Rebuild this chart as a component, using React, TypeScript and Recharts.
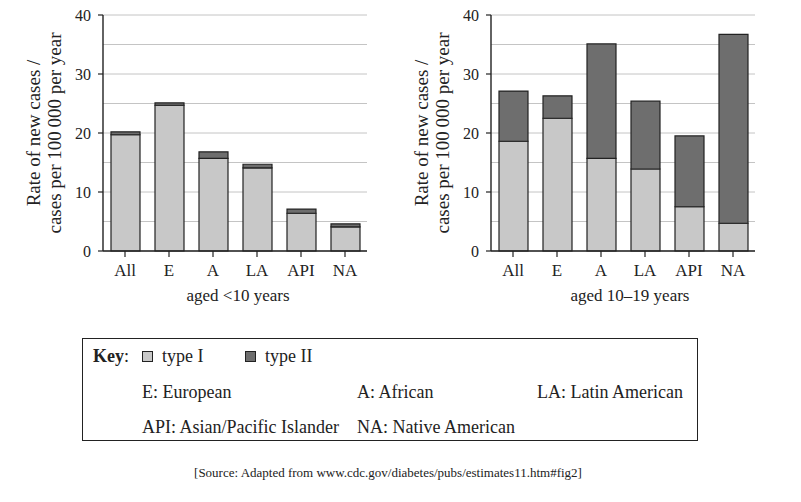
import React from 'react';
import { BarChart, Bar, XAxis, YAxis, CartesianGrid } from 'recharts';

const groups = ['All', 'E', 'A', 'LA', 'API', 'NA'];
const young1 = [19.7, 24.7, 15.7, 14.1, 6.4, 4.1];
const young2 = [0.5, 0.4, 1.1, 0.6, 0.7, 0.5];
const teen1 = [18.6, 22.5, 15.7, 13.9, 7.5, 4.7];
const teen2 = [8.5, 3.8, 19.4, 11.5, 12.0, 32.0];
const yTicks = [0, 5, 10, 15, 20, 25, 30, 35, 40];
const yLabelLines = ['Rate of new cases /', 'cases per 100\u2009000 per year'];

const FONT = '"Liberation Serif", "Times New Roman", serif';
const INK = '#222';
const LIGHT = '#c8c8c8';
const DARK = '#6e6e6e';
const TICK_SIZE = 5;
const TICK_MARGIN = 7;

const makeRows = (t1: number[], t2: number[]) =>
  groups.map((g, i) => ({ group: g, type1: t1[i], type2: t2[i] }));

const YTick = (props: any) => {
  const { x, y, payload } = props;
  if (payload.value % 10 !== 0) return null;
  return (
    <g>
      <line x1={x + TICK_MARGIN} x2={x + TICK_MARGIN + TICK_SIZE} y1={y} y2={y} stroke={INK} strokeWidth={1.2} />
      <text x={x} y={y} dy="0.36em" textAnchor="end" fontSize={16} fontFamily={FONT} fill={INK}>
        {payload.value}
      </text>
    </g>
  );
};

const XTick = (props: any) => {
  const { x, y, payload } = props;
  return (
    <text x={x} y={y + 19} textAnchor="middle" fontSize={17} fontFamily={FONT} fill={INK}>
      {payload.value}
    </text>
  );
};

function Panel({ rows, title, titleDx }: { rows: any[]; title: string; titleDx: number }) {
  return (
    <BarChart
      width={400}
      height={320}
      data={rows}
      margin={{ top: 15, right: 33, left: 0, bottom: 0 }}
      barSize={29}
    >
      <CartesianGrid vertical={false} stroke="#c4c4c4" strokeWidth={1} />
      <XAxis
        dataKey="group"
        height={69}
        tickSize={6}
        tickMargin={0}
        axisLine={{ stroke: INK, strokeWidth: 1.4 }}
        tickLine={{ stroke: INK, strokeWidth: 1.2 }}
        tick={<XTick />}
        label={{
          content: (p: any) => {
            const vb = p.viewBox;
            return (
              <text x={vb.x + vb.width / 2 + titleDx} y={vb.y + 50} textAnchor="middle" fontSize={17} fontFamily={FONT} fill={INK}>
                {title}
              </text>
            );
          },
        }}
      />
      <YAxis
        width={103}
        domain={[0, 40]}
        ticks={yTicks}
        interval={0}
        tickSize={TICK_SIZE}
        tickMargin={TICK_MARGIN}
        tickLine={false}
        axisLine={{ stroke: INK, strokeWidth: 1.4 }}
        tick={<YTick />}
        label={{
          content: (p: any) => {
            const vb = p.viewBox;
            const ax = vb.x + vb.width;
            const cy = vb.y + vb.height / 2;
            return (
              <g>
                {yLabelLines.map((line, i) => {
                  const bx = ax - 63 + i * 21;
                  return (
                    <text
                      key={line}
                      x={bx}
                      y={cy}
                      transform={`rotate(-90, ${bx}, ${cy})`}
                      textAnchor="middle"
                      fontSize={19}
                      fontFamily={FONT}
                      fill={INK}
                    >
                      {line}
                    </text>
                  );
                })}
              </g>
            );
          },
        }}
      />
      <Bar dataKey="type1" stackId="s" fill={LIGHT} stroke={INK} strokeWidth={1.2} isAnimationActive={false} />
      <Bar dataKey="type2" stackId="s" fill={DARK} stroke={INK} strokeWidth={1.2} isAnimationActive={false} />
    </BarChart>
  );
}

const txt: React.CSSProperties = { position: 'absolute', fontFamily: FONT, fontSize: 18, color: INK, whiteSpace: 'nowrap', lineHeight: '18px' };
const swatch = (bg: string, left: number): React.CSSProperties => ({
  position: 'absolute', left, top: 351, width: 9, height: 9, background: bg, border: `1px solid ${INK}`,
});

export default function App() {
  return (
    <div style={{ position: 'absolute', left: 0, top: 0, width: 801, height: 502, background: '#fff', overflow: 'hidden' }}>
      <div style={{ position: 'absolute', left: 0, top: 0 }}>
        <Panel rows={makeRows(young1, young2)} title="aged <10 years" titleDx={3} />
      </div>
      <div style={{ position: 'absolute', left: 388, top: 0 }}>
        <Panel rows={makeRows(teen1, teen2)} title={'aged 10\u201319 years'} titleDx={7} />
      </div>

      <div style={{ position: 'absolute', left: 82, top: 338, width: 614, height: 101, border: `1.5px solid ${INK}` }} />
      <div style={{ ...txt, left: 93, top: 347 }}><b>Key</b>:</div>
      <div style={swatch(LIGHT, 142)} />
      <div style={{ ...txt, left: 162, top: 347 }}>type I</div>
      <div style={swatch(DARK, 245)} />
      <div style={{ ...txt, left: 265, top: 347 }}>type II</div>
      <div style={{ ...txt, left: 142, top: 383 }}>E: European</div>
      <div style={{ ...txt, left: 357, top: 383 }}>A: African</div>
      <div style={{ ...txt, left: 537, top: 383 }}>LA: Latin American</div>
      <div style={{ ...txt, left: 142, top: 418 }}>API: Asian/Pacific Islander</div>
      <div style={{ ...txt, left: 357, top: 418 }}>NA: Native American</div>

      <div style={{ ...txt, fontSize: 13, lineHeight: '13px', left: 0, width: 776, textAlign: 'center', top: 466 }}>
        [Source: Adapted from www.cdc.gov/diabetes/pubs/estimates11.htm#fig2]
      </div>
    </div>
  );
}
